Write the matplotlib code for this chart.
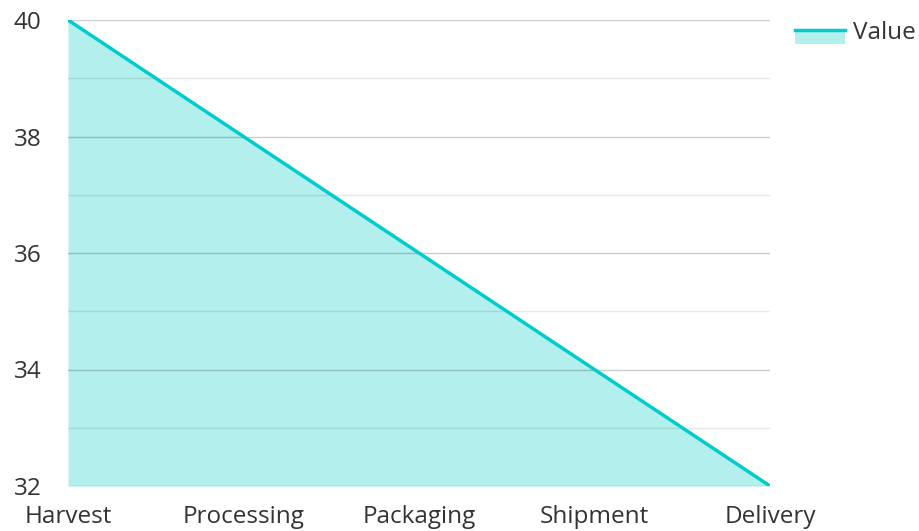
import matplotlib
matplotlib.use("Agg")
import matplotlib.pyplot as plt
from matplotlib.legend_handler import HandlerBase
from matplotlib.patches import Rectangle
from matplotlib.lines import Line2D

plt.rcParams['font.family'] = ['Open Sans', 'DejaVu Sans']

stages = ['Harvest', 'Processing', 'Packaging', 'Shipment', 'Delivery']
values = [40, 38, 36, 34, 32]
y_ticks = [32, 34, 36, 38, 40]
y_minor = [33, 35, 37, 39]

line_color = '#00cccc'
fill_color = '#b2efed'
fs = 17.5


class AreaHandler(HandlerBase):
    # filled box with the line along its top edge
    def create_artists(self, legend, orig, xd, yd, w, h, fontsize, trans):
        rect = Rectangle((xd, yd - h * 0.3), w, h * 0.85, facecolor=fill_color,
                         edgecolor='none', transform=trans)
        ln = Line2D([xd, xd + w], [yd + h * 0.5, yd + h * 0.5], color=line_color,
                    lw=2.5, transform=trans)
        return [rect, ln]


fig = plt.figure(figsize=(9.2, 5.31), dpi=100)
ax = fig.add_axes([68 / 920, 1 - 486 / 531, (770 - 68) / 920, (486 - 20) / 531])

x = list(range(len(stages)))
ax.fill_between(x, values, 32, color=fill_color, lw=0, zorder=1)
line, = ax.plot(x, values, color=line_color, lw=2.5, zorder=3, solid_capstyle='round')

ax.set_xlim(0, len(stages) - 1)
ax.set_ylim(32, 40)
ax.set_xticks(x)
ax.set_xticklabels(stages)
ax.set_yticks(y_ticks)

for y in y_ticks:
    ax.axhline(y, color='#000000', alpha=0.2, lw=1, zorder=2)
for y in y_minor:
    ax.axhline(y, color='#000000', alpha=0.09, lw=1, zorder=2)

for s in ax.spines.values():
    s.set_visible(False)
ax.tick_params(axis='both', which='both', length=0, labelsize=fs, colors='#333333')
ax.tick_params(axis='y', pad=19)
ax.tick_params(axis='x', pad=14)

ax.legend([line], ['Value'], handler_map={line: AreaHandler()},
          loc='upper left', bbox_to_anchor=(795 / 920, 1 - 21 / 531),
          bbox_transform=fig.transFigure, frameon=False, fontsize=fs,
          handlelength=2.05, handletextpad=0.33, borderpad=0, borderaxespad=0,
          labelcolor='#333333')

fig.savefig('out.png', dpi=100)
